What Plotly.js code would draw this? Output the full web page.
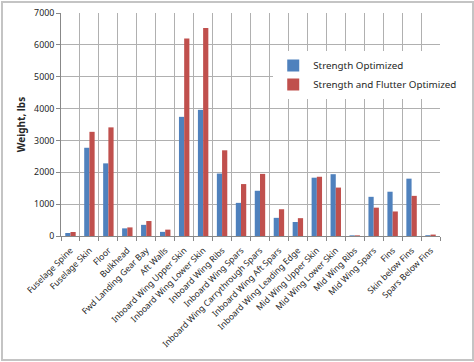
<!DOCTYPE html>
<html>
<head>
<meta charset="utf-8">
<script src="https://cdn.plot.ly/plotly-3.0.1.min.js"></script>
<style>
html,body{margin:0;padding:0;background:#fff;}
#wrap{position:relative;width:474px;height:362px;}
#chart{width:474px;height:362px;}
#frame{position:absolute;left:1px;top:1px;width:469px;height:356px;border:2px solid #c4c4c4;pointer-events:none;}
</style>
</head>
<body>
<div id="wrap"><div id="chart"></div><div id="frame"></div></div>
<script>
const categories = [
  "Fuselage Spine","Fuselage Skin","Floor","Bulkhead","Fwd Landing Gear Bay","Aft Walls",
  "Inboard Wing Upper Skin","Inboard Wing Lower Skin","Inboard Wing Ribs","Inboard Wing Spars",
  "Inboard Wing Carrythrough Spars","Inboard Wing Aft Spars","Inboard Wing Leading Edge",
  "Mid Wing Upper Skin","Mid Wing Lower Skin","Mid Wing Ribs","Mid Wing Spars","Fins",
  "Skin below Fins","Spars Below Fins"
];
const strengthOptimized = [95,2770,2280,240,350,130,3740,3960,1960,1040,1420,570,440,1830,1940,20,1230,1390,1800,25];
const strengthFlutterOptimized = [125,3270,3410,270,470,200,6200,6530,2690,1630,1950,840,560,1860,1520,20,890,770,1260,45];
const yTicks = [0,1000,2000,3000,4000,5000,6000,7000];

const font = "'Noto Sans', sans-serif";
const data = [
  {type:"bar", name:"Strength Optimized", x:categories, y:strengthOptimized, marker:{color:"#4F81BD"}},
  {type:"bar", name:"Strength and Flutter Optimized", x:categories, y:strengthFlutterOptimized, marker:{color:"#C0504D"}}
];
const layout = {
  width:474, height:362,
  margin:{l:61, r:14, t:13, b:126},
  paper_bgcolor:"#fff", plot_bgcolor:"#fff",
  font:{family:font, size:9, color:"#262626"},
  barmode:"group", bargap:0.45, bargroupgap:0,
  showlegend:true,
  legend:{x:0.56, y:0.83, xanchor:"left", yanchor:"top", bgcolor:"#fff", font:{size:9.8, color:"#262626"},
          tracegroupgap:0, itemwidth:30, borderwidth:0},
  xaxis:{type:"category", tickson:"boundaries", dtick:1, showgrid:true, gridcolor:"#b0b0b0", gridwidth:1,
         layer:"below traces",
         ticks:"outside", ticklen:4, tickcolor:"#888", tickangle:-45, ticklabelstandoff:5,
         showline:true, linecolor:"#888", linewidth:1, tickfont:{size:8.6, color:"#262626"}},
  yaxis:{range:[0,7000], tickvals:yTicks, showgrid:true, gridcolor:"#b0b0b0", gridwidth:1,
         ticks:"outside", ticklen:4, tickcolor:"#888", showline:true, linecolor:"#888",
         zeroline:false, tickfont:{size:8.8, color:"#262626"},
         title:{text:"<b>Weight, lbs</b>", font:{size:10, color:"#262626"}, standoff:6}}
};
Plotly.newPlot("chart", data, layout, {staticPlot:true, displayModeBar:false});
</script>
</body>
</html>
